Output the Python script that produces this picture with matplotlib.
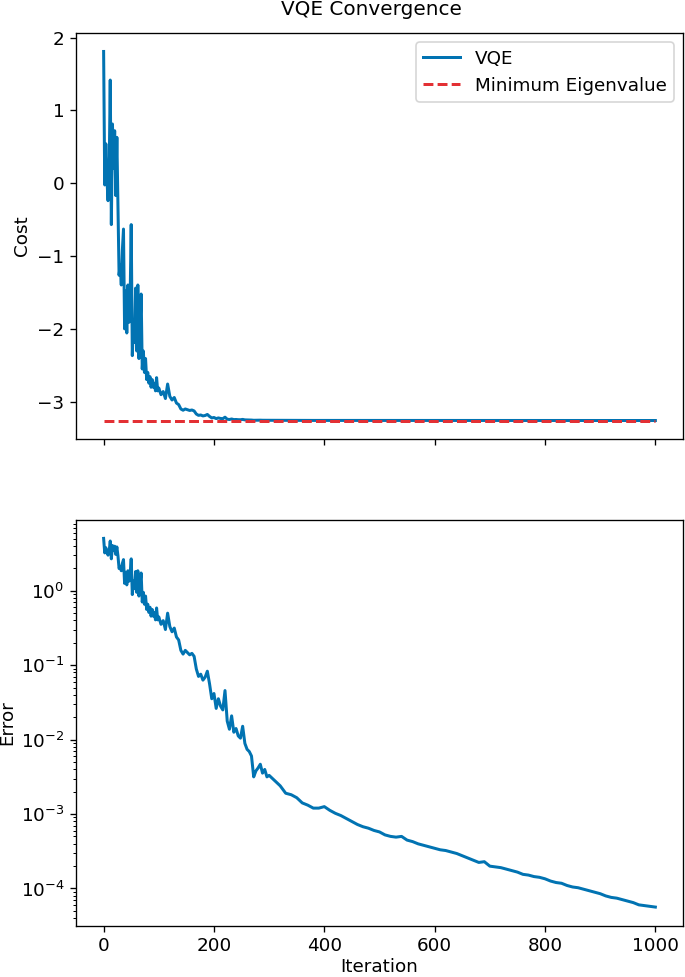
import numpy as np
import matplotlib
matplotlib.use("Agg")
import matplotlib.pyplot as plt

plt.rcParams["font.size"] = 11

iterations = np.concatenate([
    np.arange(0, 100, 2),
    np.arange(100, 300, 4),
    np.arange(300, 1001, 10),
])

# log10 of |cost - minimum eigenvalue|
log_error_start = [
    0.705, 0.51, 0.58, 0.52, 0.48, 0.53, 0.67, 0.43, 0.61, 0.54,
    0.60, 0.49, 0.59, 0.47, 0.30, 0.33, 0.27, 0.37, 0.42, 0.10,
    0.25, 0.08, 0.27, 0.13, 0.22, 0.43, -0.05, 0.13, 0.03, 0.26,
    -0.02, 0.27, -0.07, 0.10, 0.24, -0.15, -0.02, -0.18, -0.07, -0.25,
    -0.18, -0.29, -0.22, -0.34, -0.25, -0.34, -0.29, -0.39, -0.23, -0.39,
]
log_error_mid = [
    -0.35, -0.45, -0.40, -0.52, -0.30, -0.48, -0.55, -0.50, -0.62, -0.66,
    -0.80, -0.85, -0.80, -0.83, -0.86, -0.84, -0.88, -1.05, -1.15, -1.12,
    -1.20, -1.16, -1.08, -1.25, -1.45, -1.38, -1.58, -1.45, -1.55, -1.60,
    -1.34, -1.75, -1.86, -1.68, -1.90, -1.85, -1.95, -1.98, -1.82, -2.05,
    -2.13, -2.16, -2.22, -2.50, -2.42, -2.38, -2.33, -2.45, -2.40, -2.50,
]
log_error_end = [
    -2.48, -2.55, -2.62, -2.72, -2.74, -2.78, -2.85, -2.88, -2.92, -2.92,
    -2.90, -2.95, -2.99, -3.02, -3.06, -3.10, -3.14, -3.17, -3.19, -3.22,
    -3.24, -3.28, -3.30, -3.31, -3.30, -3.35, -3.37, -3.40, -3.42, -3.44,
    -3.46, -3.48, -3.49, -3.51, -3.53, -3.56, -3.59, -3.62, -3.65, -3.64,
    -3.70, -3.71, -3.72, -3.74, -3.76, -3.78, -3.81, -3.82, -3.84, -3.85,
    -3.87, -3.90, -3.92, -3.93, -3.96, -3.98, -3.99, -4.01, -4.03, -4.05,
    -4.07, -4.10, -4.12, -4.13, -4.15, -4.17, -4.19, -4.22, -4.23, -4.24,
    -4.25,
]
min_eigenvalue = -3.26

error = 10 ** np.array(log_error_start + log_error_mid + log_error_end)
cost = min_eigenvalue + error

blue = "#0173b2"
red = "#e33034"

fig = plt.figure(figsize=(685 / 120, 977 / 120), dpi=120)
ax1 = fig.add_axes([0.111, 0.5507, 0.886, 0.4155])
ax2 = fig.add_axes([0.111, 0.0527, 0.886, 0.4151], sharex=ax1)

# Cost vs iteration
ax1.plot(iterations, cost, color=blue, lw=1.8, label="VQE")
ax1.plot([iterations[0], iterations[-1]], [min_eigenvalue, min_eigenvalue],
         color=red, ls="--", lw=1.8, dashes=(3.3, 1.4), label="Minimum Eigenvalue")
ax1.set_ylabel("Cost")
ax1.legend(loc="upper right")
ax1.tick_params(labelbottom=False)

# Error vs iteration (log scale)
ax2.plot(iterations, error, color=blue, lw=1.8)
ax2.set_yscale("log")
ax2.set_xlabel("Iteration", labelpad=1.5)
ax2.set_ylabel("Error", labelpad=2.5)
ax2.set_xticks([0, 200, 400, 600, 800, 1000])

fig.text(371 / 685, 1 - 15 / 977, "VQE Convergence", fontsize=12,
         ha="center", va="baseline")

fig.savefig("out.png", dpi=120)
